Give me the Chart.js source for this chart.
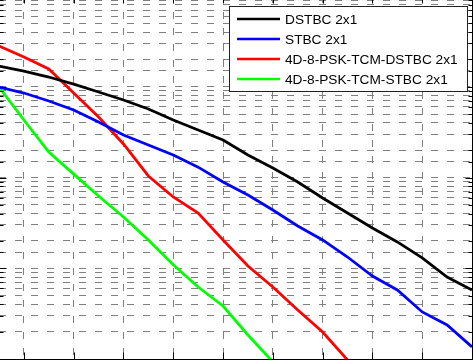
<!DOCTYPE html>
<html>
<head>
<meta charset="utf-8">
<script src="https://cdn.jsdelivr.net/npm/chart.js@4.4.1/dist/chart.umd.min.js"></script>
<style>
    html, body { margin: 0; padding: 0; background: #fff; overflow: hidden; }
    body { width: 474px; height: 361px; position: relative; }
    /* the axes box is bigger than the window: left and top edges are cropped like the source */
    .chart-container { position: absolute; left: -11px; top: -14px; width: 493px; height: 383px; }
</style>
</head>
<body>
<div class="chart-container"><canvas id="berChart"></canvas></div>
<script>
// SNR (dB)
const snr = [1, 2, 3, 4, 5, 6, 7, 8, 9, 10, 11, 12, 13, 14, 15, 16, 17, 18, 19, 20];
const xTicks = [2, 4, 6, 8, 10, 12, 14, 16, 18, 20];

// BER per curve
const dstbc = [1.69e-3, 1.49e-3, 1.28e-3, 1.07e-3, 8.75e-4, 7.14e-4, 5.69e-4, 4.30e-4, 3.34e-4, 2.59e-4,
    1.77e-4, 1.27e-4, 8.92e-5, 5.94e-5, 4.06e-5, 2.78e-5, 1.95e-5, 1.30e-5, 8.01e-6, 5.76e-6];
const stbc = [9.94e-4, 8.53e-4, 6.97e-4, 5.54e-4, 4.09e-4, 2.94e-4, 2.28e-4, 1.77e-4, 1.30e-4, 8.92e-5,
    6.41e-5, 4.38e-5, 2.92e-5, 2.05e-5, 1.33e-5, 8.21e-6, 5.76e-6, 3.30e-6, 2.37e-6, 1.36e-6];
const tcmDstbc = [2.81e-3, 2.13e-3, 1.57e-3, 8.53e-4, 4.64e-4, 2.34e-4, 1.04e-4, 6.10e-5, 4.06e-5, 2.05e-5,
    1.06e-5, 6.21e-6, 3.47e-6, 1.98e-6, 9.75e-7, 4.1e-7];
const tcmStbc = [9.94e-4, 4.30e-4, 1.91e-4, 1.09e-4, 6.25e-5, 3.67e-5, 2.05e-5, 1.09e-5, 6.21e-6, 3.84e-6,
    1.84e-6, 9.3e-7, 4.3e-7];

const labels = ["DSTBC 2x1", "STBC 2x1", "4D-8-PSK-TCM-DSTBC 2x1", "4D-8-PSK-TCM-STBC 2x1"];
const colors = ["#000000", "#0000ff", "#ff0000", "#00ff00"];
const series = [dstbc, stbc, tcmDstbc, tcmStbc];

const gridColor = "#808080";

// frame, inward ticks and boxed legend, matlab style
const matlabFrame = {
    id: "matlabFrame",
    afterDraw(chart) {
        const { ctx, scales } = chart;
        const xs = scales.x;
        const ys = scales.y;
        const left = Math.round(xs.getPixelForValue(xs.min)) + 0.5;
        const right = Math.round(xs.getPixelForValue(xs.max)) + 0.5;
        const top = Math.round(ys.getPixelForValue(ys.max)) + 0.5;
        const bottom = Math.round(ys.getPixelForValue(ys.min)) + 0.5;

        ctx.save();
        ctx.setLineDash([]);
        ctx.strokeStyle = "#000";
        ctx.lineWidth = 1;
        ctx.beginPath();
        xTicks.forEach((v) => {
            const x = Math.round(xs.getPixelForValue(v)) + 0.5;
            ctx.moveTo(x, bottom);
            ctx.lineTo(x, bottom - 7);
            ctx.moveTo(x, top);
            ctx.lineTo(x, top + 7);
        });
        ys.ticks.forEach((t) => {
            const y = Math.round(ys.getPixelForValue(t.value)) + 0.5;
            const len = t.major ? 7 : 4;
            ctx.moveTo(right, y);
            ctx.lineTo(right - len, y);
            ctx.moveTo(left, y);
            ctx.lineTo(left + len, y);
        });
        ctx.moveTo(left, top);
        ctx.lineTo(right, top);
        ctx.lineTo(right, bottom);
        ctx.lineTo(left, bottom);
        ctx.closePath();
        ctx.stroke();

        // legend box
        const boxW = 238;
        const boxH = 85;
        const bx = Math.round(right) - 6 - boxW;
        const by = Math.round(top) + 9;
        ctx.fillStyle = "#fff";
        ctx.fillRect(bx, by, boxW, boxH);
        ctx.strokeStyle = "#222";
        ctx.strokeRect(bx + 0.5, by + 0.5, boxW, boxH);
        ctx.font = "13.7px 'Liberation Sans', Arial, sans-serif";
        ctx.textBaseline = "middle";
        ctx.textAlign = "left";
        chart.data.datasets.forEach((ds, i) => {
            const y = by + 13 + i * 20;
            ctx.strokeStyle = ds.borderColor;
            ctx.lineWidth = 2.5;
            ctx.beginPath();
            ctx.moveTo(bx + 8, y);
            ctx.lineTo(bx + 51, y);
            ctx.stroke();
            ctx.fillStyle = "#000";
            ctx.fillText(ds.label, bx + 56, y + 1);
        });
        ctx.restore();
    },
};

const ctx = document.getElementById("berChart").getContext("2d");

new Chart(ctx, {
    type: "line",
    data: {
        datasets: series.map((values, i) => ({
            label: labels[i],
            data: values.map((v, j) => ({ x: snr[j], y: v })),
            borderColor: colors[i],
            backgroundColor: colors[i],
            borderWidth: 2.8,
            pointRadius: 0,
            tension: 0,
            fill: false,
        })),
    },
    options: {
        responsive: true,
        maintainAspectRatio: false,
        animation: false,
        events: [],
        layout: {
            padding: { top: 10, right: 10, bottom: 10, left: 10 },
        },
        scales: {
            x: {
                type: "linear",
                min: 1,
                max: 20,
                afterBuildTicks: (scale) => {
                    scale.ticks = xTicks.map((v) => ({ value: v }));
                },
                grid: { color: gridColor, lineWidth: 1, drawTicks: false },
                border: { display: false, dash: [7, 9] },
                ticks: { display: false },
            },
            y: {
                type: "logarithmic",
                min: 1e-6,
                max: 1e-2,
                grid: { color: gridColor, lineWidth: 1, drawTicks: false },
                border: { display: false, dash: [7, 9] },
                ticks: { display: false },
            },
        },
        plugins: {
            legend: { display: false },
            tooltip: { enabled: false },
        },
    },
    plugins: [matlabFrame],
});
</script>
</body>
</html>
